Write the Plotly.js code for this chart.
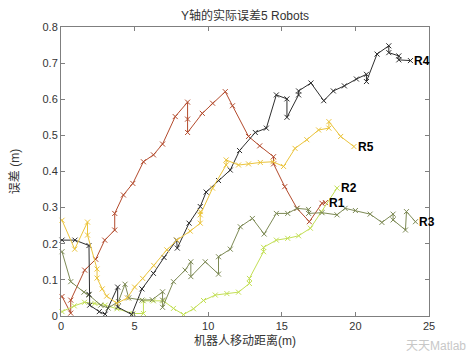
<!DOCTYPE html>
<html>
<head>
<meta charset="utf-8">
<script src="https://cdn.plot.ly/plotly-3.0.1.min.js"></script>
<style>html,body{margin:0;padding:0;background:#fff;}#chart{width:474px;height:355px;}</style>
</head>
<body>
<div id="chart"></div>
<script>
const seriesNames = ['R1', 'R2', 'R3', 'R4', 'R5'];

const r1x = [0.07, 0.66, 0.66, 1.61, 2.36, 2.97, 3.65, 3.65, 4.24, 4.88, 5.6, 6.28, 6.9, 7.76, 8.6, 8.6, 8.6, 9.6, 10.3, 11.16, 11.65, 12.74, 13.5, 14.44, 14.44, 15.2, 16.03, 16.87, 17.73, 17.96];
const r1y = [0.054, 0.008, 0.044, 0.127, 0.157, 0.21, 0.238, 0.284, 0.335, 0.367, 0.427, 0.446, 0.476, 0.552, 0.592, 0.545, 0.508, 0.561, 0.589, 0.621, 0.582, 0.497, 0.471, 0.441, 0.421, 0.358, 0.298, 0.261, 0.312, 0.314];

const r2x = [0.07, 0.9, 1.6, 2.3, 3.0, 3.8, 4.9, 5.6, 5.6, 6.28, 6.96, 7.64, 8.32, 9.0, 9.68, 10.48, 11.27, 12.06, 12.8, 12.8, 13.76, 13.76, 14.63, 15.4, 16.14, 16.94, 17.7, 18.75];
const r2y = [0.012, 0.028, 0.038, 0.035, 0.03, 0.02, 0.007, 0.007, 0.042, 0.042, 0.042, 0.021, 0.004, 0.02, 0.043, 0.058, 0.062, 0.066, 0.09, 0.104, 0.178, 0.19, 0.21, 0.215, 0.222, 0.243, 0.289, 0.354];

const r3x = [0.07, 0.66, 1.56, 1.9, 2.7, 3.2, 3.9, 4.35, 4.6, 5.5, 6.2, 6.9, 6.9, 6.9, 7.64, 8.43, 8.82, 8.82, 9.8, 10.7, 10.7, 11.5, 12.18, 13.0, 13.8, 14.63, 15.4, 16.03, 16.82, 16.82, 17.73, 18.75, 19.3, 20.0, 21.0, 21.8, 22.56, 22.56, 23.4, 23.47, 24.08];
const r3y = [0.178, 0.095, 0.066, 0.058, 0.03, 0.022, 0.04, 0.088, 0.05, 0.044, 0.045, 0.067, 0.044, 0.024, 0.095, 0.127, 0.15, 0.109, 0.15, 0.116, 0.164, 0.185, 0.247, 0.27, 0.227, 0.284, 0.284, 0.298, 0.295, 0.284, 0.286, 0.28, 0.298, 0.292, 0.282, 0.259, 0.282, 0.266, 0.238, 0.289, 0.261];

const r4x = [0.07, 0.95, 1.9, 1.9, 1.95, 2.6, 3.0, 3.85, 3.85, 4.8, 5.5, 6.28, 7.0, 7.85, 7.9, 8.7, 9.46, 9.86, 10.7, 11.5, 12.13, 13.2, 13.95, 14.63, 15.35, 15.35, 16.14, 16.14, 16.98, 17.85, 18.5, 19.25, 20.07, 20.75, 20.75, 21.47, 22.27, 22.27, 22.95, 22.95, 23.74];
const r4y = [0.21, 0.21, 0.195, 0.06, 0.03, 0.012, 0.005, 0.08, 0.025, 0.004, 0.075, 0.118, 0.162, 0.21, 0.188, 0.257, 0.303, 0.343, 0.375, 0.404, 0.458, 0.508, 0.52, 0.612, 0.601, 0.55, 0.612, 0.623, 0.645, 0.596, 0.623, 0.637, 0.656, 0.669, 0.649, 0.725, 0.748, 0.729, 0.72, 0.709, 0.707];

const r5x = [0.07, 0.93, 1.8, 1.8, 2.45, 2.45, 2.8, 3.1, 3.8, 4.5, 5.0, 5.55, 6.3, 7.19, 7.87, 8.78, 9.46, 9.46, 9.46, 10.3, 11.22, 11.22, 12.06, 12.74, 13.54, 14.4, 15.12, 15.9, 16.7, 17.5, 18.2, 18.2, 19.0, 19.9];
const r5y = [0.265, 0.185, 0.26, 0.224, 0.13, 0.105, 0.075, 0.055, 0.035, 0.05, 0.08, 0.104, 0.14, 0.183, 0.21, 0.235, 0.257, 0.289, 0.28, 0.354, 0.418, 0.432, 0.418, 0.421, 0.425, 0.427, 0.414, 0.464, 0.488, 0.515, 0.52, 0.538, 0.497, 0.469];

const xTicks = [0, 5, 10, 15, 20, 25];
const yTicks = [0, 0.1, 0.2, 0.3, 0.4, 0.5, 0.6, 0.7, 0.8];

const colors = ['#b34a2c', '#c3df55', '#7d8a55', '#2e2e2e', '#ebc43c'];
const xs = [r1x, r2x, r3x, r4x, r5x];
const ys = [r1y, r2y, r3y, r4y, r5y];

const FONT = 'Liberation Sans, Arial, Noto Sans CJK SC, sans-serif';

const traces = seriesNames.map((n, i) => ({
  x: xs[i], y: ys[i], name: n, type: 'scatter', mode: 'lines+markers',
  line: {color: colors[i], width: 1},
  marker: {symbol: 'x-thin', size: 5, line: {color: colors[i], width: 1}, color: colors[i]},
  cliponaxis: false, showlegend: false, hoverinfo: 'skip'
}));

const annotations = seriesNames.map((n, i) => ({
  x: xs[i][xs[i].length - 1], y: ys[i][ys[i].length - 1],
  xref: 'x', yref: 'y', text: '<b>' + n + '</b>', showarrow: false,
  xanchor: 'left', yanchor: 'middle', xshift: 2,
  font: {family: FONT, size: 12, color: '#000'}
}));
annotations.push({
  xref: 'paper', yref: 'paper', x: 1.105, y: -0.105, xanchor: 'right', yanchor: 'middle',
  text: '天天Matlab', showarrow: false,
  font: {family: FONT, size: 12, color: '#c8c8c8'}
});

const axisCommon = {
  showgrid: false, zeroline: false, showline: true, linecolor: '#7f7f7f', linewidth: 1,
  mirror: 'allticks', ticks: 'inside', ticklen: 4, tickcolor: '#7f7f7f', tickwidth: 1,
  tickfont: {family: FONT, size: 11, color: '#333'}
};

const layout = {
  width: 474, height: 355,
  margin: {l: 61, r: 45, t: 27, b: 39},
  paper_bgcolor: '#fff', plot_bgcolor: '#fff',
  title: {text: 'Y轴的实际误差5 Robots', x: 0.5, xref: 'paper', xanchor: 'center', y: 0.955, yanchor: 'middle',
          font: {family: FONT, size: 12, color: '#333'}},
  xaxis: Object.assign({}, axisCommon, {range: [0, 25], tickvals: xTicks, ticktext: xTicks.map(String),
          title: {text: '机器人移动距离(m)', standoff: 5, font: {family: FONT, size: 12, color: '#333'}}}),
  yaxis: Object.assign({}, axisCommon, {range: [0, 0.8], tickvals: yTicks, ticktext: yTicks.map(String),
          title: {text: '误差 (m)', standoff: 20, font: {family: FONT, size: 12, color: '#333'}}}),
  annotations: annotations
};

Plotly.newPlot('chart', traces, layout, {displayModeBar: false, staticPlot: true});
</script>
</body>
</html>
